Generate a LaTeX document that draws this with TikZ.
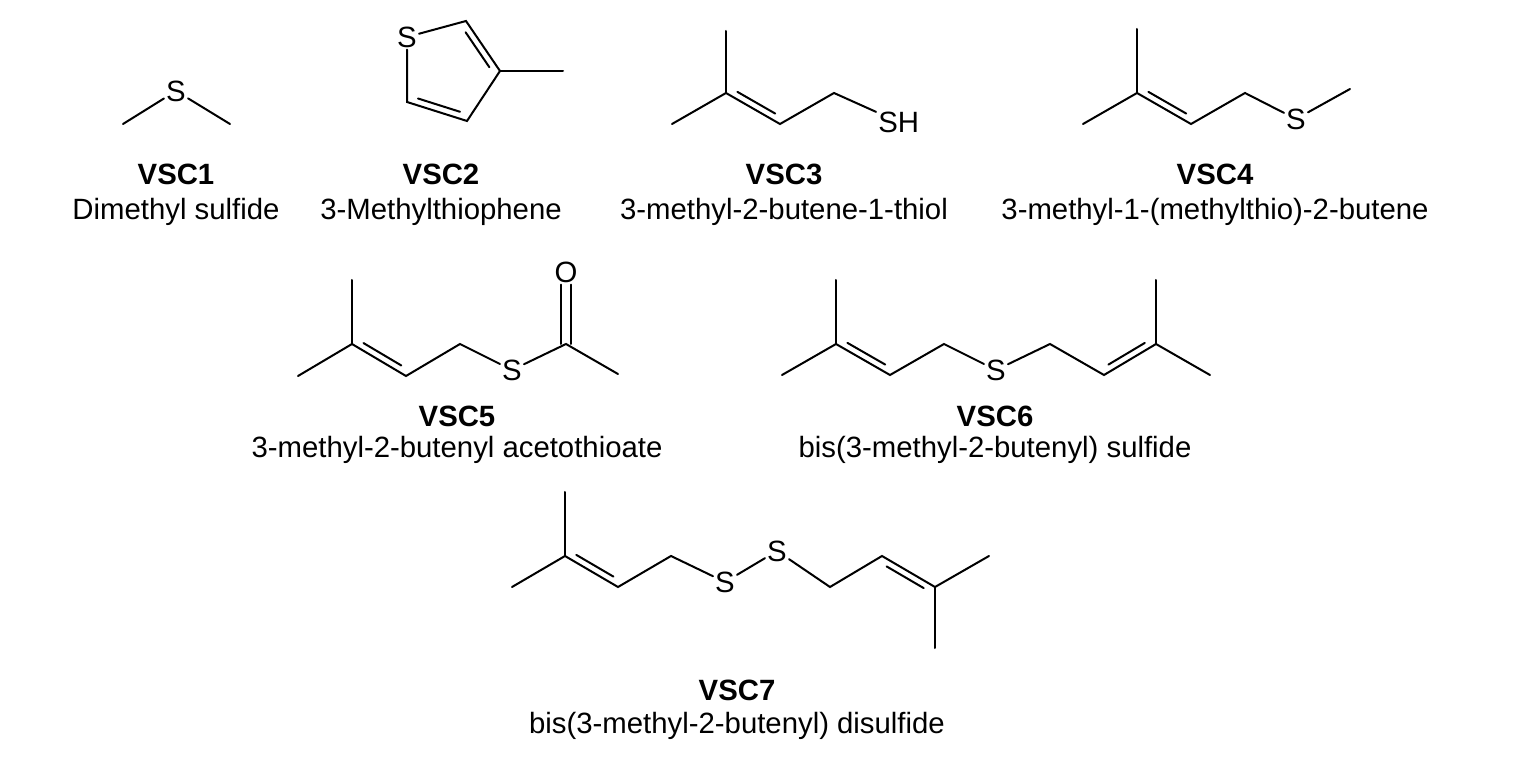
\documentclass[tikz,border=0pt]{standalone}
\usepackage{fontspec}
\setmainfont{Liberation Sans}
\usetikzlibrary{calc,positioning}
% second line of a double bond, shifted to one side
\newcommand{\dbl}[3]{\draw[bond] ($(#1)!0.15!(#2)!#3!90:(#2)$) -- ($(#2)!0.15!(#1)!#3!-90:(#1)$);}
\begin{document}
\begin{tikzpicture}[
    x=0.75pt, y=-0.75pt,
    bond/.style={line width=1.5pt, line cap=round},
    atom/.style={font=\fontsize{22}{24}\selectfont, inner sep=1.5pt},
    code/.style={font=\fontsize{22}{24}\selectfont\bfseries},
    molname/.style={font=\fontsize{22}{24}\selectfont}
]
    \useasboundingbox (0,0) rectangle (1536,780);

    % VSC1
    \coordinate (a1) at (123,124);
    \node[atom] (as) at (176,91) {S};
    \coordinate (a2) at (230,124);
    \draw[bond] (a1) -- (as) -- (a2);
    \node[code] (vsc1) at (176,174) {VSC1};
    \node[molname] at (176,212) {Dimethyl sulfide};

    % VSC2
    \node[atom] (bs) at (407,37) {S};
    \coordinate (b2) at (466,21);
    \coordinate (b3) at (500,71);
    \coordinate (b4) at (467,121);
    \coordinate (b5) at (407,102);
    \coordinate (bm) at (563,71);
    \draw[bond] (bs) -- (b2) -- (b3) -- (b4) -- (b5) -- (bs);
    \draw[bond] (b3) -- (bm);
    \dbl{b2}{b3}{-5pt}
    \dbl{b4}{b5}{-5pt}
    \node[code] (vsc2) at (441,174) {VSC2};
    \node[molname] at (441,212) {3-Methylthiophene};

    % VSC3
    \coordinate (c1) at (672,124);
    \coordinate (c2) at (726,93);
    \coordinate (c3) at (726,31);
    \coordinate (c4) at (780,124);
    \coordinate (c5) at (834,93);
    \node[atom, anchor=west] (cs) at (876,122) {SH};
    \draw[bond] (c1) -- (c2) -- (c4) -- (c5) -- (cs);
    \draw[bond] (c2) -- (c3);
    \dbl{c2}{c4}{5pt}
    \node[code] (vsc3) at (784,174) {VSC3};
    \node[molname] at (784,212) {3-methyl-2-butene-1-thiol};

    % VSC4
    \coordinate (d1) at (1083,124);
    \coordinate (d2) at (1137,93);
    \coordinate (d3) at (1137,29);
    \coordinate (d4) at (1191,124);
    \coordinate (d5) at (1245,93);
    \node[atom] (ds) at (1296,119) {S};
    \coordinate (d6) at (1350,89);
    \draw[bond] (d1) -- (d2) -- (d4) -- (d5) -- (ds) -- (d6);
    \draw[bond] (d2) -- (d3);
    \dbl{d2}{d4}{5pt}
    \node[code] (vsc4) at (1215,174) {VSC4};
    \node[molname] at (1215,212) {3-methyl-1-(methylthio)-2-butene};

    % VSC5
    \coordinate (e1) at (298,376);
    \coordinate (e2) at (352,344);
    \coordinate (e3) at (352,280);
    \coordinate (e4) at (406,376);
    \coordinate (e5) at (460,344);
    \node[atom] (es) at (512,370) {S};
    \coordinate (e6) at (566,344);
    \node[atom] (eo) at (566,272) {O};
    \coordinate (e7) at (618,374);
    \draw[bond] (e1) -- (e2) -- (e4) -- (e5) -- (es) -- (e6) -- (e7);
    \draw[bond] (e2) -- (e3);
    \draw[bond] ([xshift=-3.5]e6) -- ([xshift=-3.5]eo.south);
    \draw[bond] ([xshift=3.5]e6) -- ([xshift=3.5]eo.south);
    \dbl{e2}{e4}{5pt}
    \node[code] (vsc5) at (457,416) {VSC5};
    \node[molname] at (457,450) {3-methyl-2-butenyl acetothioate};

    % VSC6
    \coordinate (f1) at (782,375);
    \coordinate (f2) at (836,344);
    \coordinate (f3) at (836,280);
    \coordinate (f4) at (890,375);
    \coordinate (f5) at (944,344);
    \node[atom] (fs) at (996,370) {S};
    \coordinate (f6) at (1050,344);
    \coordinate (f7) at (1104,375);
    \coordinate (f8) at (1156,344);
    \coordinate (f9) at (1156,280);
    \coordinate (f10) at (1210,375);
    \draw[bond] (f1) -- (f2) -- (f4) -- (f5) -- (fs) -- (f6) -- (f7) -- (f8) -- (f10);
    \draw[bond] (f2) -- (f3);
    \draw[bond] (f8) -- (f9);
    \dbl{f2}{f4}{5pt}
    \dbl{f7}{f8}{5pt}
    \node[code] (vsc6) at (995,416) {VSC6};
    \node[molname] at (995,450) {bis(3-methyl-2-butenyl) sulfide};

    % VSC7
    \coordinate (g1) at (512,587);
    \coordinate (g2) at (565,556);
    \coordinate (g3) at (565,492);
    \coordinate (g4) at (618,587);
    \coordinate (g5) at (671,556);
    \node[atom] (gs1) at (725,582) {S};
    \node[atom] (gs2) at (777,551) {S};
    \coordinate (g6) at (830,587);
    \coordinate (g7) at (882,556);
    \coordinate (g8) at (935,587);
    \coordinate (g9) at (989,556);
    \coordinate (g10) at (935,648);
    \draw[bond] (g1) -- (g2) -- (g4) -- (g5) -- (gs1) -- (gs2) -- (g6) -- (g7) -- (g8) -- (g9);
    \draw[bond] (g2) -- (g3);
    \draw[bond] (g8) -- (g10);
    \dbl{g2}{g4}{5pt}
    \dbl{g7}{g8}{-5pt}
    \node[code] (vsc7) at (737,690) {VSC7};
    \node[molname] at (737,726) {bis(3-methyl-2-butenyl) disulfide};
\end{tikzpicture}
\end{document}
